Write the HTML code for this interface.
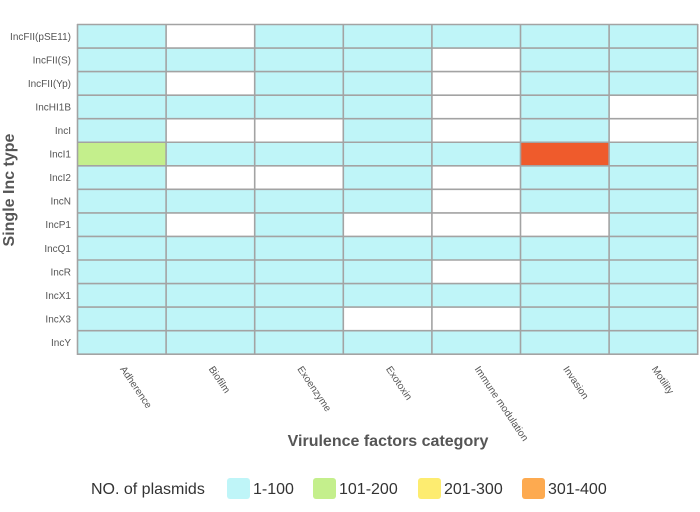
<!DOCTYPE html>
<html><head><meta charset="utf-8"><style>body{margin:0;background:#fff}svg{display:block}</style></head>
<body>
<svg width="700" height="512" xmlns="http://www.w3.org/2000/svg" font-family="Liberation Sans, sans-serif">
<rect x="77.5" y="24.5" width="620.2" height="329.7" fill="#bff5f8"/>
<g fill="#ffffff">
<rect x="166.1" y="24.5" width="88.6" height="23.55"/>
<rect x="431.9" y="48.05" width="88.6" height="23.55"/>
<rect x="166.1" y="71.6" width="88.6" height="23.55"/>
<rect x="431.9" y="71.6" width="88.6" height="23.55"/>
<rect x="431.9" y="95.15" width="88.6" height="23.55"/>
<rect x="609.1" y="95.15" width="88.6" height="23.55"/>
<rect x="166.1" y="118.7" width="177.2" height="23.55"/>
<rect x="431.9" y="118.7" width="88.6" height="23.55"/>
<rect x="609.1" y="118.7" width="88.6" height="23.55"/>
<rect x="166.1" y="165.8" width="177.2" height="23.55"/>
<rect x="431.9" y="165.8" width="88.6" height="23.55"/>
<rect x="431.9" y="189.35" width="88.6" height="23.55"/>
<rect x="166.1" y="212.9" width="88.6" height="23.55"/>
<rect x="343.3" y="212.9" width="265.8" height="23.55"/>
<rect x="431.9" y="260" width="88.6" height="23.55"/>
<rect x="343.3" y="307.1" width="177.2" height="23.55"/>
</g>
<rect x="77.5" y="142.25" width="88.6" height="23.55" fill="#c4ef8c"/>
<rect x="520.5" y="142.25" width="88.6" height="23.55" fill="#ef5b2c"/>
<g stroke="#a3a3a3" stroke-width="1.6">
<line x1="77.5" y1="24" x2="77.5" y2="355"/><line x1="166.1" y1="24" x2="166.1" y2="355"/><line x1="254.7" y1="24" x2="254.7" y2="355"/><line x1="343.3" y1="24" x2="343.3" y2="355"/><line x1="431.9" y1="24" x2="431.9" y2="355"/><line x1="520.5" y1="24" x2="520.5" y2="355"/><line x1="609.1" y1="24" x2="609.1" y2="355"/><line x1="697.7" y1="24" x2="697.7" y2="355"/>
<line x1="77" y1="24.5" x2="698" y2="24.5"/><line x1="77" y1="48.05" x2="698" y2="48.05"/><line x1="77" y1="71.6" x2="698" y2="71.6"/><line x1="77" y1="95.15" x2="698" y2="95.15"/><line x1="77" y1="118.7" x2="698" y2="118.7"/><line x1="77" y1="142.25" x2="698" y2="142.25"/><line x1="77" y1="165.8" x2="698" y2="165.8"/><line x1="77" y1="189.35" x2="698" y2="189.35"/><line x1="77" y1="212.9" x2="698" y2="212.9"/><line x1="77" y1="236.45" x2="698" y2="236.45"/><line x1="77" y1="260" x2="698" y2="260"/><line x1="77" y1="283.55" x2="698" y2="283.55"/><line x1="77" y1="307.1" x2="698" y2="307.1"/><line x1="77" y1="330.65" x2="698" y2="330.65"/><line x1="77" y1="354.2" x2="698" y2="354.2"/>
</g>
<g font-size="10" fill="#555" text-anchor="end">
<text x="71" y="39.8">IncFII(pSE11)</text><text x="71" y="63.35">IncFII(S)</text><text x="71" y="86.9">IncFII(Yp)</text><text x="71" y="110.45">IncHI1B</text><text x="71" y="134">IncI</text><text x="71" y="157.55">IncI1</text><text x="71" y="181.1">IncI2</text><text x="71" y="204.65">IncN</text><text x="71" y="228.2">IncP1</text><text x="71" y="251.75">IncQ1</text><text x="71" y="275.3">IncR</text><text x="71" y="298.85">IncX1</text><text x="71" y="322.4">IncX3</text><text x="71" y="345.95">IncY</text>
</g>
<g font-size="10" fill="#555">
<text transform="translate(119.8,369) rotate(56)">Adherence</text>
<text transform="translate(208.4,369) rotate(56)">Biofilm</text>
<text transform="translate(297,369) rotate(56)">Exoenzyme</text>
<text transform="translate(385.6,369) rotate(56)">Exotoxin</text>
<text transform="translate(474.2,369) rotate(56)">Immune modulation</text>
<text transform="translate(562.8,369) rotate(56)">Invasion</text>
<text transform="translate(651.4,369) rotate(56)">Motility</text>
</g>
<text x="388" y="446" font-size="16" font-weight="bold" fill="#555" text-anchor="middle">Virulence factors category</text>
<text transform="translate(14,190) rotate(-90)" font-size="16" font-weight="bold" fill="#555" text-anchor="middle">Single Inc type</text>
<g font-size="16" fill="#333">
<text x="91" y="494">NO. of plasmids</text>
<rect x="227" y="478" width="23" height="21" rx="3" fill="#bff5f8"/><text x="253" y="494">1-100</text>
<rect x="313" y="478" width="23" height="21" rx="3" fill="#c4ef8c"/><text x="339" y="494">101-200</text>
<rect x="418" y="478" width="23" height="21" rx="3" fill="#fdec70"/><text x="444" y="494">201-300</text>
<rect x="522" y="478" width="23" height="21" rx="3" fill="#fdaa50"/><text x="548" y="494">301-400</text>
</g>
</svg>
</body></html>
